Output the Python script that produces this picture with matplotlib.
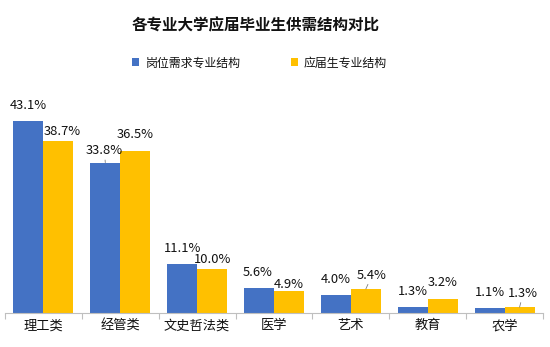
import matplotlib
matplotlib.use("Agg")
import matplotlib.pyplot as plt
import numpy as np

plt.rcParams['font.family'] = ['Noto Sans CJK SC', 'DejaVu Sans']

categories = ['理工类', '经管类', '文史哲法类', '医学', '艺术', '教育', '农学']
demand = [43.1, 33.8, 11.1, 5.6, 4.0, 1.3, 1.1]
supply = [38.7, 36.5, 10.0, 4.9, 5.4, 3.2, 1.3]
series_names = ['岗位需求专业结构', '应届生专业结构']
title = '各专业大学应届毕业生供需结构对比'

BLUE = '#4472C4'
GOLD = '#FFC000'

fig = plt.figure(figsize=(5.5, 3.47), dpi=100)
ax = fig.add_axes([5 / 550, 34 / 347, 538 / 550, 213.6 / 347])

x = np.arange(len(categories))
w = 0.39
b1 = ax.bar(x - w / 2, demand, width=w, color=BLUE, label=series_names[0])
b2 = ax.bar(x + w / 2, supply, width=w, color=GOLD, label=series_names[1])

ax.set_xlim(-0.5, len(categories) - 0.5)
ax.set_ylim(0, 48)

for s in ['top', 'right', 'left']:
    ax.spines[s].set_visible(False)
ax.spines['bottom'].set_color('#BFBFBF')
ax.spines['bottom'].set_linewidth(0.8)
ax.set_yticks([])

ax.set_xticks(x)
ax.set_xticklabels(categories, fontsize=9.5, color='#111111')
ax.tick_params(axis='x', which='major', length=0, pad=4.5)
ax.set_xticks(np.arange(len(categories) + 1) - 0.5, minor=True)
ax.tick_params(axis='x', which='minor', length=4, color='#BFBFBF', width=0.8, direction='out')

# label offsets (points) relative to bar top centre: (dx, dy, leader line)
off_demand = [(0, 11.5, False), (-0.7, 8.5, True), (0, 11, False), (-0.7, 11.5, False),
              (0, 11.5, False), (0, 11.5, False), (0, 11.5, False)]
off_supply = [(3, 6.5, False), (0, 11.5, False), (0, 6.5, False), (0, 5, False),
              (4.5, 10, True), (0, 11.5, False), (2.6, 10, True)]

def add_labels(bars, values, offsets):
    for bar, v, (dx, dy, lead) in zip(bars, values, offsets):
        cx = bar.get_x() + bar.get_width() / 2
        kw = {}
        if lead:
            kw['arrowprops'] = dict(arrowstyle='-', color='#7F7F7F', lw=0.6,
                                    shrinkA=4, shrinkB=0)
        ax.annotate(f'{v:.1f}%', xy=(cx, v), xytext=(dx, dy),
                    textcoords='offset points', ha='center', va='center',
                    fontsize=9.3, color='#111111', **kw)

add_labels(b1, demand, off_demand)
add_labels(b2, supply, off_supply)

fig.text(256 / 550, 1 - 25 / 347, title, ha='center', va='center',
         fontsize=11.2, fontweight='bold', color='#111111')

fig.legend(handles=[b1, b2], labels=series_names, loc='center',
           bbox_to_anchor=(259.5 / 550, 1 - 63 / 347), ncol=2, frameon=False,
           fontsize=8.6, handlelength=0.6, handleheight=0.6, handletextpad=0.5,
           columnspacing=4.2, labelcolor='#111111')

fig.savefig('out.png', dpi=100)
